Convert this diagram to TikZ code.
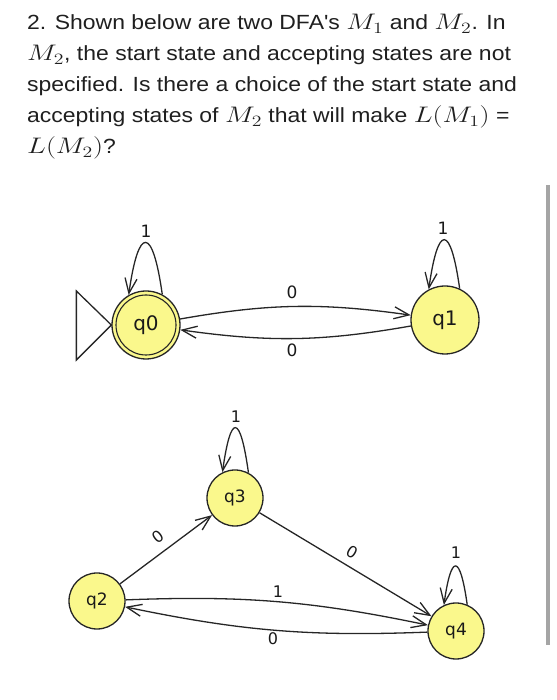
\RequirePackage{fix-cm}
\documentclass[tikz,border=0pt]{standalone}
\usepackage[no-math]{fontspec}
\setmainfont[Ligatures=TeXOff]{Liberation Sans}
\newfontfamily\dvs{DejaVu Sans}
\usetikzlibrary{arrows.meta}
\definecolor{stfill}{RGB}{250,248,140}
\definecolor{scrollc}{RGB}{165,165,165}
\newcommand\mth[1]{\scalebox{1.12}[1]{\fontsize{22.5}{30}\selectfont$#1$}}
\newcommand\qtxt[1]{\scalebox{1.12}[1]{#1}}
\begin{document}
\begin{tikzpicture}[x=1pt,y=1pt,
  state/.style={circle,draw=black!85,line width=1.3pt,fill=stfill,inner sep=0pt,text=black!90},
  bigst/.style={state,minimum size=68pt,font=\dvs\fontsize{20}{20}\selectfont},
  smallst/.style={state,minimum size=56pt,font=\dvs\fontsize{17}{17}\selectfont},
  edge/.style={draw=black!85,line width=1.3pt,-{Straight Barb[length=15pt,width=12pt]}},
  toplab/.style={font=\dvs\fontsize{17}{17}\selectfont,text=black!90,inner sep=0pt},
  botlab/.style={font=\dvs\fontsize{16}{16}\selectfont,text=black!90,inner sep=0pt},
  qline/.style={anchor=base west,font=\fontsize{20.5}{30}\selectfont,text=black!88,inner sep=0pt}
]
\useasboundingbox (0,0) rectangle (556,700);

% question text
\node[qline] (t1) at (27,670) {\qtxt{2. Shown below are two DFA's \mth{M_1} and \mth{M_2}. In}};
\node[qline] (t2) at (27,639) {\qtxt{\mth{M_2}, the start state and accepting states are not}};
\node[qline] (t3) at (27,608) {\qtxt{specified. Is there a choice of the start state and}};
\node[qline] (t4) at (27,577) {\qtxt{accepting states of \mth{M_2} that will make \mth{L(M_1)} =}};
\node[qline] (t5) at (27,546) {\qtxt{\mth{L(M_2)}?}};

% scrollbar
\draw[scrollc,line width=3.5pt] (548,515) -- (548,55);

% M1
\node[bigst] (q0) at (146,375) {};
\draw[draw=black!85,line width=1.1pt] (q0.center) circle (30);
\node[font=\dvs\fontsize{20}{20}\selectfont,text=black!90] (q0t) at (q0.center) {q0};
\node[bigst] (q1) at (445,380) {q1};

\draw[draw=black!85,line width=1.3pt] (q0.west) -- ++(-35,34) -- ++(0,-69) -- cycle;

\draw[edge] (q0.62) .. controls +(98:70) and +(82:70) .. (q0.120);
\draw[edge] (q1.65) .. controls +(98:66) and +(82:66) .. (q1.118);
\draw[edge] (q0) to[bend left=9] (q1);
\draw[edge] (q1) to[bend left=9] (q0);

\node[toplab] (l01) at (146,469) {1};
\node[toplab] (l11) at (443,472) {1};
\node[toplab] (l00a) at (292,408) {0};
\node[toplab] (l00b) at (292,350) {0};

% M2
\node[smallst] (q2) at (97,99) {q2};
\node[smallst] (q3) at (235,202) {q3};
\node[smallst] (q4) at (456,69) {q4};

\draw[edge] (q3.62) .. controls +(98:60) and +(82:60) .. (q3.116);
\draw[edge] (q4.67) .. controls +(98:52) and +(82:52) .. (q4.115);
\draw[edge] (q2) -- (q3);
\draw[edge] (q3) -- (q4);
\draw[edge] (q2) to[bend left=7] (q4);
\draw[edge] (q4) to[bend left=7] (q2);

\node[botlab] (l31) at (236,283) {1};
\node[botlab] (l41) at (456,147) {1};
\node[botlab,rotate=37] (l23) at (158,163) {0};
\node[botlab,rotate=-31] (l34) at (352,148) {0};
\node[botlab] (l24) at (278,108) {1};
\node[botlab] (l42) at (273,61) {0};
\end{tikzpicture}
\end{document}
